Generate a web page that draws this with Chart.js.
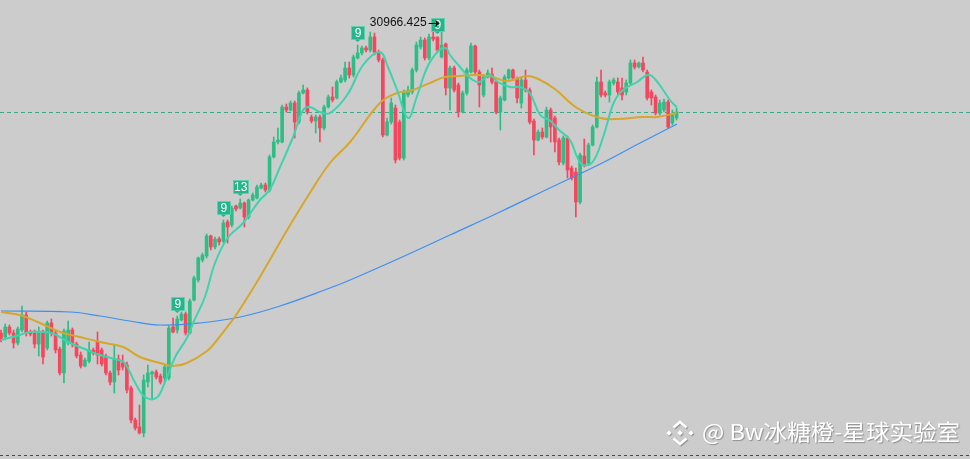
<!DOCTYPE html>
<html>
<head>
<meta charset="utf-8">
<script src="https://cdn.jsdelivr.net/npm/chart.js@4/dist/chart.umd.min.js"></script>
<style>
  html, body { margin: 0; padding: 0; background: #cccccc; }
  #wrap { width: 970px; height: 459px; }
</style>
</head>
<body>
<div id="wrap"><canvas id="kline" width="970" height="459"></canvas></div>
<script>
// candles, oldest first (price)
const opens = [27870,27830,27930,27870,27770,27900,28050,27880,27870,27760,27870,27720,27970,27870,27710,27470,27770,27900,27760,27650,
  27540,27590,27700,27780,27700,27640,27470,27380,27610,27570,27550,27320,27000,26930,26870,27380,27460,27480,27440,27420,
  27420,27930,27900,28000,28060,27870,28200,28400,28600,28640,28840,28730,28810,28790,28980,28950,29140,29120,29170,29030,
  29200,29220,29320,29350,29300,29630,29780,29780,30130,30100,30170,29980,30270,30300,30030,29990,30030,29920,30130,30230,
  30220,30380,30400,30520,30450,30620,30670,30720,30700,30830,30680,30600,29850,29980,30120,29980,29620,30250,30280,30500,
  30730,30800,30620,30830,30830,30630,30760,30320,30520,30350,30080,30270,30480,30740,30480,30250,30430,30460,30380,30080,
  30200,30420,30500,30410,30170,30400,30300,29990,29800,29880,29830,30100,30020,29800,29570,29820,29520,29480,29180,29640,
  29570,29750,29930,30380,30270,30250,30370,30380,30320,30280,30370,30570,30530,30570,30480,30280,30230,30070,30100,30180,
  29970,30020];
const highs = [27900,27960,27950,27900,27930,28140,28080,27900,27900,27930,27900,27990,28010,27900,27730,27910,27990,27920,27780,27680,
  27620,27780,27720,27880,27720,27660,27490,27750,27650,27650,27580,27340,27020,27150,27450,27550,27490,27500,27460,27550,
  27940,28020,28040,28080,28080,28210,28440,28630,28670,28860,28850,28830,28830,29000,29000,29140,29150,29210,29180,29210,
  29270,29350,29370,29370,29650,29830,29920,30150,30160,30190,30190,30290,30350,30320,30050,30050,30050,30150,30250,30330,
  30400,30450,30580,30580,30650,30750,30740,30740,30880,30870,30700,30620,30020,30220,30150,30000,30300,30340,30520,30780,
  30830,30820,30860,30920,30830,30966.425,30770,30540,30540,30370,30290,30520,30770,30750,30500,30450,30500,30520,30400,30240,
  30450,30510,30510,30430,30420,30500,30320,30010,29900,29920,30130,30120,30040,29820,29840,29840,29540,29520,29670,29810,
  29770,29950,30430,30500,30290,30400,30420,30420,30420,30400,30600,30600,30580,30630,30500,30300,30250,30200,30210,30200,
  30100,30120];
const lows = [27780,27800,27850,27720,27750,27880,27840,27840,27720,27640,27560,27700,27840,27670,27450,27370,27750,27730,27620,27520,
  27530,27570,27650,27560,27540,27450,27350,27270,27450,27500,27270,26970,26900,26860,26830,27330,27200,27410,27360,27370,
  27400,27870,27870,27990,27850,27860,28190,28380,28580,28620,28700,28710,28750,28770,28770,28930,29090,29110,28930,29010,
  29190,29210,29310,29280,29280,29620,29760,29770,30080,30090,29820,29960,30260,30060,29970,29870,29780,29900,30120,30180,
  30210,30370,30380,30420,30430,30610,30650,30680,30680,30650,30580,29830,29840,29960,29570,29600,29600,30230,30260,30480,
  30710,30600,30600,30790,30680,30620,30250,30100,30280,30030,30070,30250,30470,30460,30130,30230,30420,30360,30060,29900,
  30190,30410,30400,30170,30120,30280,29960,29650,29790,29810,29820,29780,29680,29550,29550,29420,29400,29030,29160,29530,
  29550,29740,29920,30230,30230,30180,30350,30250,30200,30250,30350,30510,30520,30480,30200,30150,30050,30050,30080,29920,
  29950,30000];
const closes = [27810,27930,27870,27770,27910,28050,27870,27860,27760,27870,27630,27970,27870,27700,27470,27890,27900,27760,27640,27540,
  27600,27700,27670,27650,27560,27470,27380,27610,27500,27530,27300,27000,26920,26870,27400,27470,27480,27430,27380,27530,
  27920,27880,28010,28060,27870,28190,28420,28620,28650,28840,28730,28810,28780,28970,28930,29120,29110,29170,29030,29200,
  29250,29330,29350,29300,29630,29780,29800,30130,30100,30170,29980,30270,30300,30080,29990,30030,29920,30130,30230,30200,
  30380,30420,30520,30450,30630,30670,30720,30700,30830,30680,30600,29850,29980,30170,29600,29620,30280,30300,30500,30750,
  30800,30620,30830,30810,30700,30750,30320,30520,30300,30080,30270,30500,30740,30480,30350,30430,30470,30380,30080,30220,
  30430,30500,30420,30220,30400,30300,29980,29800,29880,29830,30100,29930,29780,29580,29820,29500,29420,29180,29650,29550,
  29750,29930,30380,30250,30250,30380,30400,30280,30250,30370,30570,30530,30570,30500,30220,30220,30070,30170,30180,29930,
  30050,30080];

// moving averages, sampled along the candle index
const maFastIdx = [0,4.5,7,12,16,20.5,23.6,28,29.5,32,34.3,37,39,41.5,44.3,46,48.6,51,54,57.7,61.7,64,66.5,69.6,72,73.6,76,78.4,
  82.5,86.3,90.3,92.2,94.4,97,99,101.5,104,106,107,109.4,111.8,114,116.5,118.4,121.3,123.7,126,128.5,131,133,135.6,137.3,138.7,
  141,143.5,146,148.2,151.6,154,155.4,157.8,159.4,161];
const maFastVal = [27800,27850,27880,27870,27780,27700,27650,27600,27570,27370,27230,27220,27370,27630,27820,27990,28230,28570,28820,
  28970,29200,29300,29530,29830,30100,30130,30080,30070,30250,30550,30680,30530,30300,30020,30220,30520,30680,30720,30650,30530,
  30420,30380,30450,30380,30330,30330,30270,30050,29990,29900,29800,29630,29550,29580,29830,30170,30300,30380,30450,30430,30300,
  30200,30130];
const maMidIdx = [0,4.5,9.3,14.1,18.8,23.6,29.1,33.1,37.9,41,44.3,49.1,51.5,53.9,56.2,61.7,68.2,73.6,78.4,83.2,90.3,94.4,97.5,
  102.2,105.8,109.4,112.5,116.5,120.6,125.4,128.5,132,137.3,142.8,146.8,153,156.3,161];
const maMidVal = [28080,28050,27970,27880,27830,27780,27730,27630,27570,27540,27570,27690,27800,27930,28060,28430,28900,29270,29570,
  29780,30170,30270,30290,30370,30430,30440,30450,30440,30390,30440,30400,30310,30120,30020,30010,30030,30030,30070];
const maSlowIdx = [0,16.4,23.6,30.7,37.9,47.4,57,66.5,78.4,83.2,95.1,107,118.9,130.8,142.8,152.3,161.1];
const maSlowVal = [28090,28080,28040,27990,27950,27970,28030,28140,28320,28400,28620,28850,29080,29320,29560,29770,29960];

// sequential count flags: candle index and text
const flagIdx = [42,53,57,85,104];
const flagText = ['9','9','13','9','9'];

const UP = '#2ebd85', DOWN = '#f6465d';
const candleColors = closes.map((c, i) => c >= opens[i] ? UP : DOWN);
const idx = closes.map((c, i) => i);

const toPoints = (xs, ys) => xs.map((x, i) => ({x: x, y: ys[i]}));

const overlay = {
  id: 'overlay',
  beforeDatasetsDraw(chart) {
    const {ctx, scales: {x, y}, chartArea} = chart;
    ctx.save();
    // last price line
    const py = Math.round(y.getPixelForValue(closes[closes.length - 1])) + 0.5;
    ctx.strokeStyle = '#3aa98a';
    ctx.lineWidth = 1;
    ctx.setLineDash([4, 3]);
    ctx.beginPath();
    ctx.moveTo(chartArea.left, py);
    ctx.lineTo(chartArea.right, py);
    ctx.stroke();
    // bottom separator
    ctx.strokeStyle = '#4a4a4a';
    ctx.setLineDash([3, 3]);
    ctx.beginPath();
    ctx.moveTo(chartArea.left, 455.5);
    ctx.lineTo(chartArea.right, 455.5);
    ctx.stroke();
    ctx.setLineDash([]);

    // watermark
    ctx.shadowColor = 'rgba(0,0,0,0.3)';
    ctx.shadowOffsetX = 1;
    ctx.shadowOffsetY = 1;
    ctx.shadowBlur = 1;
    ctx.fillStyle = '#ffffff';
    ctx.strokeStyle = '#ffffff';
    const lx = 680, ly = 433;
    const dia = (cx, cy, r) => {
      ctx.beginPath();
      ctx.moveTo(cx, cy - r); ctx.lineTo(cx + r, cy); ctx.lineTo(cx, cy + r); ctx.lineTo(cx - r, cy);
      ctx.closePath(); ctx.fill();
    };
    dia(lx - 11, ly, 2.6);
    dia(lx + 11, ly, 2.6);
    dia(lx, ly, 2.8);
    ctx.lineWidth = 2.6;
    ctx.beginPath();
    ctx.moveTo(lx - 6.5, ly - 5.5); ctx.lineTo(lx, ly - 11); ctx.lineTo(lx + 6.5, ly - 5.5);
    ctx.moveTo(lx - 6.5, ly + 5.5); ctx.lineTo(lx, ly + 11); ctx.lineTo(lx + 6.5, ly + 5.5);
    ctx.stroke();
    const mark = '@ Bw冰糖橙-星球实验室';
    ctx.font = '22px "Noto Sans CJK SC", "Noto Sans", sans-serif';
    ctx.textBaseline = 'alphabetic';
    ctx.textAlign = 'left';
    const sx = 258 / ctx.measureText(mark).width;
    ctx.translate(702, 440);
    ctx.scale(sx, 1);
    ctx.fillText(mark, 0, 0);
    ctx.restore();
  },
  afterDatasetsDraw(chart) {
    const {ctx, scales: {x, y}} = chart;
    ctx.save();
    ctx.font = '12px Arial, "Liberation Sans", sans-serif';
    ctx.textAlign = 'center';
    ctx.textBaseline = 'middle';
    flagIdx.forEach((ci, k) => {
      const cx = x.getPixelForValue(ci);
      const tip = y.getPixelForValue(highs[ci]) - 3;
      const w = flagText[k].length > 1 ? 15 : 13;
      const h = 13;
      const bottom = tip - 3;
      ctx.fillStyle = '#26b48a';
      ctx.strokeStyle = '#5fd0ad';
      ctx.lineWidth = 1;
      ctx.beginPath();
      ctx.rect(Math.round(cx - w / 2) + 0.5, Math.round(bottom - h) + 0.5, w, h);
      ctx.fill();
      ctx.stroke();
      ctx.fillStyle = '#26b48a';
      ctx.beginPath();
      ctx.moveTo(cx - 3, bottom + 0.5);
      ctx.lineTo(cx, tip);
      ctx.lineTo(cx + 3, bottom + 0.5);
      ctx.closePath();
      ctx.fill();
      ctx.fillStyle = '#ffffff';
      ctx.fillText(flagText[k], cx + 0.5, bottom - h / 2 + 1);
    });

    // highest price label
    let hi = 0;
    highs.forEach((v, i) => { if (v > highs[hi]) hi = i; });
    const hx = x.getPixelForValue(hi);
    const hy = Math.round(y.getPixelForValue(highs[hi]));
    ctx.strokeStyle = '#111111';
    ctx.fillStyle = '#111111';
    ctx.lineWidth = 1;
    ctx.beginPath();
    ctx.moveTo(hx - 13, hy + 0.5);
    ctx.lineTo(hx - 3, hy + 0.5);
    ctx.stroke();
    ctx.beginPath();
    ctx.moveTo(hx - 2, hy + 0.5);
    ctx.lineTo(hx - 6, hy - 3);
    ctx.lineTo(hx - 6, hy + 4);
    ctx.closePath();
    ctx.fill();
    ctx.textAlign = 'right';
    ctx.font = '12px Arial, "Liberation Sans", sans-serif';
    ctx.fillText(String(highs[hi]), hx - 15, hy);
    ctx.restore();
  }
};

new Chart(document.getElementById('kline'), {
  type: 'bar',
  data: {
    datasets: [
      {
        type: 'line', label: 'MA fast', data: toPoints(maFastIdx, maFastVal),
        borderColor: '#3fd3ad', borderWidth: 2, pointRadius: 0, tension: 0.4, order: 0
      },
      {
        type: 'line', label: 'MA mid', data: toPoints(maMidIdx, maMidVal),
        borderColor: '#d6a72c', borderWidth: 2, pointRadius: 0, tension: 0.4, order: 0
      },
      {
        type: 'line', label: 'MA slow', data: toPoints(maSlowIdx, maSlowVal),
        borderColor: '#3e8ff0', borderWidth: 1.2, pointRadius: 0, tension: 0.4, order: 0
      },
      {
        label: 'wick', data: idx.map(i => ({x: i, y: [lows[i], highs[i]]})),
        backgroundColor: candleColors, barThickness: 1, grouped: false, order: 2
      },
      {
        label: 'body', data: idx.map(i => ({x: i, y: [opens[i], closes[i]]})),
        backgroundColor: candleColors, barThickness: 3, minBarLength: 1, grouped: false, order: 1
      }
    ]
  },
  options: {
    responsive: false,
    animation: false,
    layout: { padding: 0 },
    plugins: { legend: { display: false }, tooltip: { enabled: false } },
    scales: {
      x: { type: 'linear', min: -0.24, max: 230.93, offset: false, display: false },
      y: { type: 'linear', min: 26610, max: 31200, display: false }
    }
  },
  plugins: [overlay]
});
</script>
</body>
</html>
